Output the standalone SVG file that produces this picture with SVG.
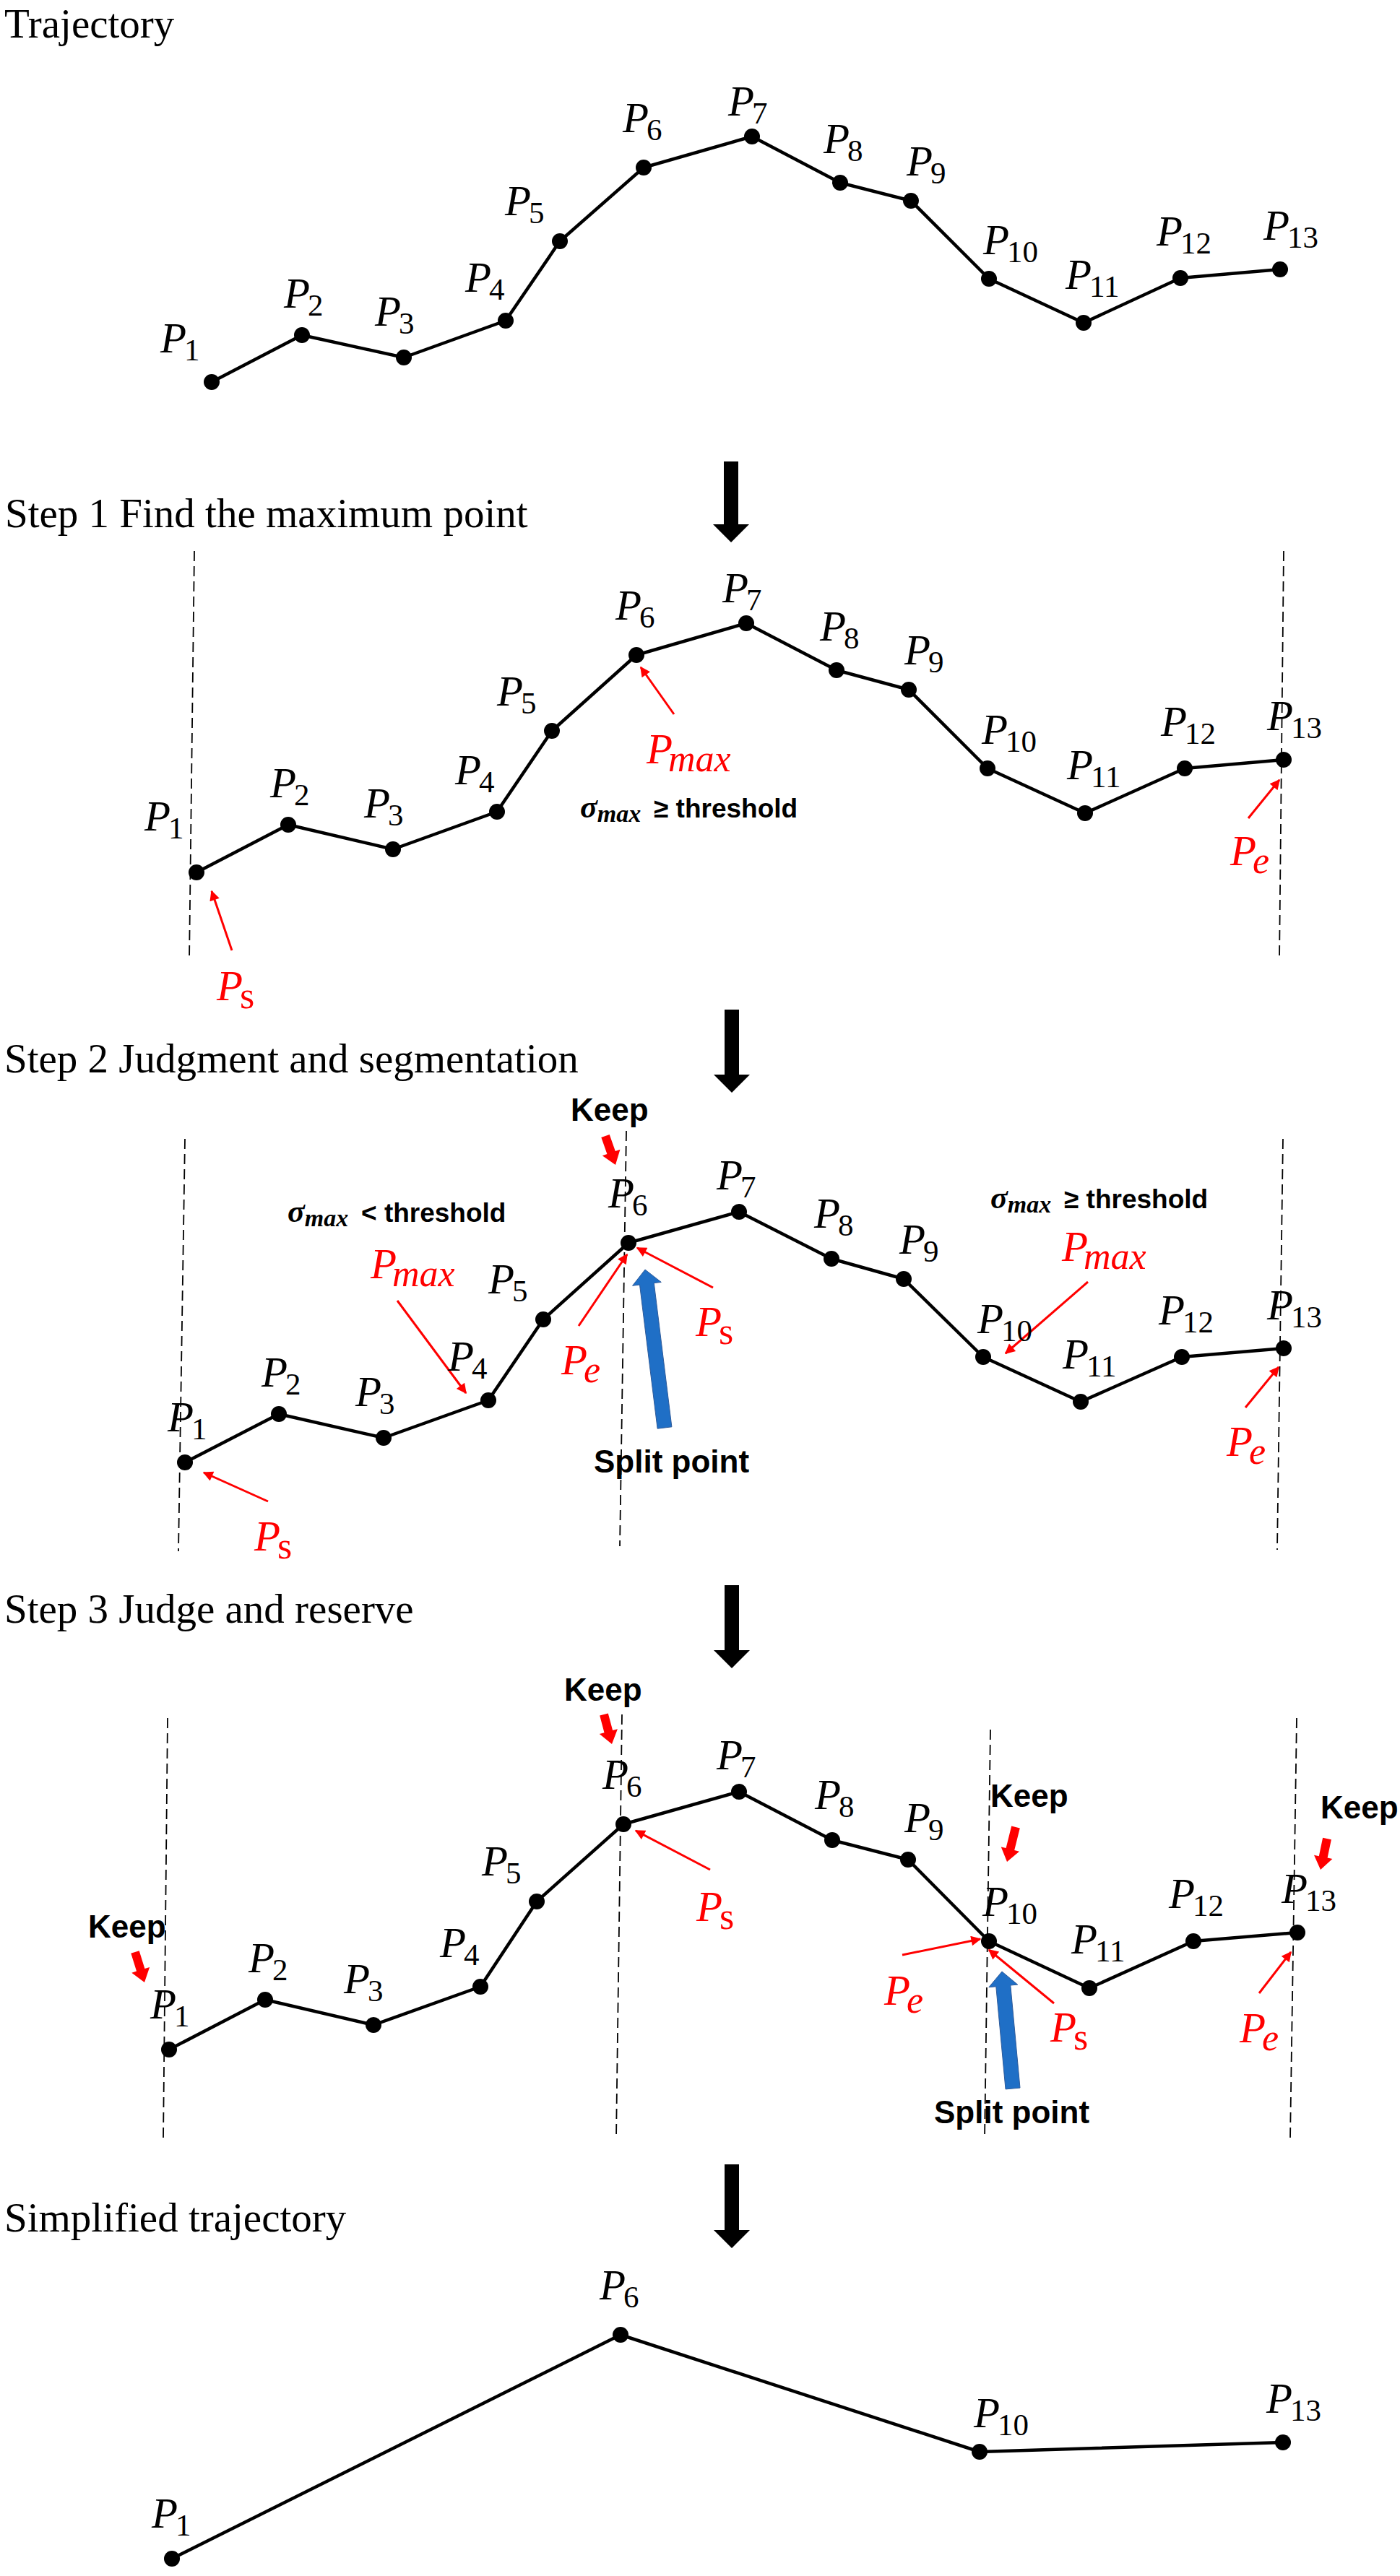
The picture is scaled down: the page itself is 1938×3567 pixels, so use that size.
<svg xmlns="http://www.w3.org/2000/svg" width="1938" height="3567" viewBox="0 0 1938 3567">
<defs>
<style>
.ttl{font-family:"Liberation Serif",serif;font-size:57px;fill:#000}
.p{font-family:"Liberation Serif",serif;font-style:italic;font-size:59px;fill:#000}
.p .n{font-style:normal;font-size:43px}
.r{fill:#f00}
.r .n{font-style:normal;font-size:52px}
.r .i{font-style:italic;font-size:52px}
.dot{fill:#000}
.traj{fill:none;stroke:#000;stroke-width:4.5;stroke-linejoin:round}
.dash{stroke:#000;stroke-width:1.8;stroke-dasharray:14 7;fill:none}
.ra{stroke:#f00;stroke-width:3;fill:none;marker-end:url(#mr)}
.blk{fill:#000}
.kp{fill:#f00}
.blue{fill:#1f6fc6;stroke:#2d5a9a;stroke-width:1}
.kw{font-family:"Liberation Sans",Arial,sans-serif;font-weight:bold;font-size:44px;fill:#000}
.sg{font-family:"Liberation Serif",serif;font-weight:bold;font-style:italic;font-size:44px;fill:#000}
.sg .m{font-size:34px}
.thr{font-family:"Liberation Sans",Arial,sans-serif;font-weight:bold;font-size:37px;font-style:normal}
</style>
<marker id="mr" viewBox="0 0 10 10" refX="9" refY="5" markerWidth="18" markerHeight="14" markerUnits="userSpaceOnUse" orient="auto"><path d="M0,0 L10,5 L0,10 z" fill="#f00"/></marker>
</defs>
<rect width="1938" height="3567" fill="#fff"/>

<g id="titles">
<text class="ttl" x="6" y="52">Trajectory</text>
<text class="ttl" x="7" y="730">Step 1 Find the maximum point</text>
<text class="ttl" x="6" y="1485">Step 2 Judgment and segmentation</text>
<text class="ttl" x="6" y="2247">Step 3 Judge and reserve</text>
<text class="ttl" x="6" y="3090">Simplified trajectory</text>
</g>

<g id="connectors">
<polyline class="traj" points="293,529 418,464 559,495 700,444 775,334 891,232 1041,189 1163,253 1261,278 1369,386 1500,447 1634,385 1772,373"/>
<polyline class="traj" points="272,1208 399,1142 544,1176 688,1124 764,1012 881,907 1033,863 1158,928 1258,955 1367,1064 1502,1126 1640,1064 1777,1052"/>
<polyline class="traj" points="256,2025 386,1958 531,1991 676,1939 752,1827 870,1721 1023,1678 1151,1743 1251,1771 1361,1879 1496,1941 1636,1879 1777,1867"/>
<polyline class="traj" points="234,2838 367,2769 517,2804 665,2751 743,2633 863,2526 1023,2481 1152,2548 1257,2575 1369,2688 1508,2753 1652,2688 1796,2676"/>
<polyline class="traj" points="238,3543 859,3233 1356,3395 1776,3382"/>

<line class="dash" x1="269" y1="763" x2="262" y2="1330"/>
<line class="dash" x1="1777" y1="763" x2="1771" y2="1330"/>
<line class="dash" x1="256" y1="1577" x2="247" y2="2148"/>
<line class="dash" x1="867" y1="1566" x2="858" y2="2141"/>
<line class="dash" x1="1776" y1="1577" x2="1768" y2="2146"/>
<line class="dash" x1="232" y1="2379" x2="226" y2="2962"/>
<line class="dash" x1="861" y1="2374" x2="853" y2="2962"/>
<line class="dash" x1="1371" y1="2395" x2="1363" y2="2962"/>
<line class="dash" x1="1795" y1="2379" x2="1786" y2="2962"/>

<polygon class="blk" points="1002,639 1022,639 1022,726 1037,726 1012,751 987,726 1002,726"/>
<polygon class="blk" points="1003,1398 1023,1398 1023,1488 1038,1488 1013,1513 988,1488 1003,1488"/>
<polygon class="blk" points="1003,2195 1023,2195 1023,2285 1038,2285 1013,2310 988,2285 1003,2285"/>
<polygon class="blk" points="1003,2997 1023,2997 1023,3088 1038,3088 1013,3113 988,3088 1003,3088"/>

<line class="ra" x1="933" y1="989" x2="887" y2="924"/>
<line class="ra" x1="321" y1="1316" x2="293" y2="1234"/>
<line class="ra" x1="1728" y1="1133" x2="1771" y2="1080"/>
<line class="ra" x1="550" y1="1801" x2="645" y2="1929"/>
<line class="ra" x1="1506" y1="1775" x2="1392" y2="1874"/>
<line class="ra" x1="801" y1="1836" x2="868" y2="1737"/>
<line class="ra" x1="987" y1="1783" x2="882" y2="1728"/>
<line class="ra" x1="371" y1="2079" x2="282" y2="2039"/>
<line class="ra" x1="1724" y1="1949" x2="1770" y2="1893"/>
<line class="ra" x1="983" y1="2589" x2="880" y2="2535"/>
<line class="ra" x1="1249" y1="2707" x2="1357" y2="2685"/>
<line class="ra" x1="1459" y1="2774" x2="1369" y2="2700"/>
<line class="ra" x1="1743" y1="2760" x2="1787" y2="2703"/>

<polygon class="kp" points="832.3,1575.0 840.4,1598.0 833.8,1600.3 852,1613 858.4,1591.7 851.8,1594.0 843.7,1571.0"/>
<polygon class="kp" points="830.2,2375.6 836.5,2399.2 829.8,2401.0 847,2415 854.9,2394.2 848.1,2396.1 841.8,2372.5"/>
<polygon class="kp" points="181.3,2704.8 189.0,2729.6 182.3,2731.7 200,2745 207.1,2724.0 200.4,2726.0 192.7,2701.2"/>
<polygon class="kp" points="1400.2,2528.5 1392.6,2559.1 1385.8,2557.4 1394,2578 1411.0,2563.7 1404.2,2562.0 1411.8,2531.5"/>
<polygon class="kp" points="1831.1,2544.8 1825.8,2570.2 1819.0,2568.7 1828,2589 1844.4,2574.1 1837.6,2572.6 1842.9,2547.2"/>

<polygon class="blue" points="929.9,1975.8 905.3,1776.6 915.3,1775.4 893,1758 875.6,1780.3 885.5,1779.0 910.1,1978.2"/>
<polygon class="blue" points="1412.0,2891.1 1398.8,2749.0 1408.7,2748.1 1387,2730 1368.9,2751.7 1378.8,2750.8 1392.0,2892.9"/>
</g>

<g id="s1-points">
<g id="s1-p1"><circle class="dot" cx="293" cy="529" r="11"/><text class="p" x="222" y="488">P<tspan class="n" dx="-3" dy="11">1</tspan></text></g>
<g id="s1-p2"><circle class="dot" cx="418" cy="464" r="11"/><text class="p" x="393" y="426">P<tspan class="n" dx="-3" dy="11">2</tspan></text></g>
<g id="s1-p3"><circle class="dot" cx="559" cy="495" r="11"/><text class="p" x="519" y="451">P<tspan class="n" dx="-3" dy="11">3</tspan></text></g>
<g id="s1-p4"><circle class="dot" cx="700" cy="444" r="11"/><text class="p" x="644" y="404">P<tspan class="n" dx="-3" dy="11">4</tspan></text></g>
<g id="s1-p5"><circle class="dot" cx="775" cy="334" r="11"/><text class="p" x="699" y="298">P<tspan class="n" dx="-3" dy="11">5</tspan></text></g>
<g id="s1-p6"><circle class="dot" cx="891" cy="232" r="11"/><text class="p" x="862" y="183">P<tspan class="n" dx="-3" dy="11">6</tspan></text></g>
<g id="s1-p7"><circle class="dot" cx="1041" cy="189" r="11"/><text class="p" x="1008" y="160">P<tspan class="n" dx="-3" dy="11">7</tspan></text></g>
<g id="s1-p8"><circle class="dot" cx="1163" cy="253" r="11"/><text class="p" x="1140" y="212">P<tspan class="n" dx="-3" dy="11">8</tspan></text></g>
<g id="s1-p9"><circle class="dot" cx="1261" cy="278" r="11"/><text class="p" x="1255" y="243">P<tspan class="n" dx="-3" dy="11">9</tspan></text></g>
<g id="s1-p10"><circle class="dot" cx="1369" cy="386" r="11"/><text class="p" x="1361" y="352">P<tspan class="n" dx="-3" dy="11">10</tspan></text></g>
<g id="s1-p11"><circle class="dot" cx="1500" cy="447" r="11"/><text class="p" x="1475" y="400">P<tspan class="n" dx="-3" dy="11">11</tspan></text></g>
<g id="s1-p12"><circle class="dot" cx="1634" cy="385" r="11"/><text class="p" x="1601" y="340">P<tspan class="n" dx="-3" dy="11">12</tspan></text></g>
<g id="s1-p13"><circle class="dot" cx="1772" cy="373" r="11"/><text class="p" x="1749" y="332">P<tspan class="n" dx="-3" dy="11">13</tspan></text></g>
</g>

<g id="s2-points">
<g id="s2-p1"><circle class="dot" cx="272" cy="1208" r="11"/><text class="p" x="200" y="1150">P<tspan class="n" dx="-3" dy="11">1</tspan></text></g>
<g id="s2-p2"><circle class="dot" cx="399" cy="1142" r="11"/><text class="p" x="374" y="1104">P<tspan class="n" dx="-3" dy="11">2</tspan></text></g>
<g id="s2-p3"><circle class="dot" cx="544" cy="1176" r="11"/><text class="p" x="504" y="1132">P<tspan class="n" dx="-3" dy="11">3</tspan></text></g>
<g id="s2-p4"><circle class="dot" cx="688" cy="1124" r="11"/><text class="p" x="630" y="1086">P<tspan class="n" dx="-3" dy="11">4</tspan></text></g>
<g id="s2-p5"><circle class="dot" cx="764" cy="1012" r="11"/><text class="p" x="688" y="977">P<tspan class="n" dx="-3" dy="11">5</tspan></text></g>
<g id="s2-p6"><circle class="dot" cx="881" cy="907" r="11"/><text class="p" x="852" y="858">P<tspan class="n" dx="-3" dy="11">6</tspan></text></g>
<g id="s2-p7"><circle class="dot" cx="1033" cy="863" r="11"/><text class="p" x="1000" y="834">P<tspan class="n" dx="-3" dy="11">7</tspan></text></g>
<g id="s2-p8"><circle class="dot" cx="1158" cy="928" r="11"/><text class="p" x="1135" y="887">P<tspan class="n" dx="-3" dy="11">8</tspan></text></g>
<g id="s2-p9"><circle class="dot" cx="1258" cy="955" r="11"/><text class="p" x="1252" y="920">P<tspan class="n" dx="-3" dy="11">9</tspan></text></g>
<g id="s2-p10"><circle class="dot" cx="1367" cy="1064" r="11"/><text class="p" x="1359" y="1030">P<tspan class="n" dx="-3" dy="11">10</tspan></text></g>
<g id="s2-p11"><circle class="dot" cx="1502" cy="1126" r="11"/><text class="p" x="1477" y="1079">P<tspan class="n" dx="-3" dy="11">11</tspan></text></g>
<g id="s2-p12"><circle class="dot" cx="1640" cy="1064" r="11"/><text class="p" x="1607" y="1019">P<tspan class="n" dx="-3" dy="11">12</tspan></text></g>
<g id="s2-p13"><circle class="dot" cx="1777" cy="1052" r="11"/><text class="p" x="1754" y="1011">P<tspan class="n" dx="-3" dy="11">13</tspan></text></g>
<g id="s2-notes">
<text class="p r" x="895" y="1057">P<tspan class="i" dx="-6" dy="11">max</tspan></text>
<text class="sg" x="803" y="1132">σ<tspan class="m" dy="6">max</tspan><tspan class="thr" x="905" y="1132">≥ threshold</tspan></text>
<text class="p r" x="300" y="1385">P<tspan class="n" dx="-4" dy="11">s</tspan></text>
<text class="p r" x="1703" y="1198">P<tspan class="i" dx="-5" dy="11">e</tspan></text>
</g>
</g>

<g id="s3-points">
<g id="s3-p1"><circle class="dot" cx="256" cy="2025" r="11"/><text class="p" x="232" y="1982">P<tspan class="n" dx="-3" dy="11">1</tspan></text></g>
<g id="s3-p2"><circle class="dot" cx="386" cy="1958" r="11"/><text class="p" x="362" y="1920">P<tspan class="n" dx="-3" dy="11">2</tspan></text></g>
<g id="s3-p3"><circle class="dot" cx="531" cy="1991" r="11"/><text class="p" x="492" y="1947">P<tspan class="n" dx="-3" dy="11">3</tspan></text></g>
<g id="s3-p4"><circle class="dot" cx="676" cy="1939" r="11"/><text class="p" x="620" y="1898">P<tspan class="n" dx="-3" dy="11">4</tspan></text></g>
<g id="s3-p5"><circle class="dot" cx="752" cy="1827" r="11"/><text class="p" x="676" y="1791">P<tspan class="n" dx="-3" dy="11">5</tspan></text></g>
<g id="s3-p6"><circle class="dot" cx="870" cy="1721" r="11"/><text class="p" x="842" y="1672">P<tspan class="n" dx="-3" dy="11">6</tspan></text></g>
<g id="s3-p7"><circle class="dot" cx="1023" cy="1678" r="11"/><text class="p" x="992" y="1647">P<tspan class="n" dx="-3" dy="11">7</tspan></text></g>
<g id="s3-p8"><circle class="dot" cx="1151" cy="1743" r="11"/><text class="p" x="1127" y="1700">P<tspan class="n" dx="-3" dy="11">8</tspan></text></g>
<g id="s3-p9"><circle class="dot" cx="1251" cy="1771" r="11"/><text class="p" x="1245" y="1736">P<tspan class="n" dx="-3" dy="11">9</tspan></text></g>
<g id="s3-p10"><circle class="dot" cx="1361" cy="1879" r="11"/><text class="p" x="1353" y="1846">P<tspan class="n" dx="-3" dy="11">10</tspan></text></g>
<g id="s3-p11"><circle class="dot" cx="1496" cy="1941" r="11"/><text class="p" x="1471" y="1895">P<tspan class="n" dx="-3" dy="11">11</tspan></text></g>
<g id="s3-p12"><circle class="dot" cx="1636" cy="1879" r="11"/><text class="p" x="1604" y="1834">P<tspan class="n" dx="-3" dy="11">12</tspan></text></g>
<g id="s3-p13"><circle class="dot" cx="1777" cy="1867" r="11"/><text class="p" x="1754" y="1827">P<tspan class="n" dx="-3" dy="11">13</tspan></text></g>
<g id="s3-notes">
<text class="kw" x="790" y="1552">Keep</text>
<text class="sg" x="398" y="1692">σ<tspan class="m" dy="6">max</tspan><tspan class="thr" x="500" y="1692">&lt; threshold</tspan></text>
<text class="sg" x="1371" y="1673">σ<tspan class="m" dy="6">max</tspan><tspan class="thr" x="1473" y="1673">≥ threshold</tspan></text>
<text class="p r" x="513" y="1770">P<tspan class="i" dx="-6" dy="11">max</tspan></text>
<text class="p r" x="1470" y="1746">P<tspan class="i" dx="-6" dy="11">max</tspan></text>
<text class="p r" x="777" y="1903">P<tspan class="i" dx="-5" dy="11">e</tspan></text>
<text class="p r" x="963" y="1850">P<tspan class="n" dx="-4" dy="11">s</tspan></text>
<text class="p r" x="352" y="2147">P<tspan class="n" dx="-4" dy="11">s</tspan></text>
<text class="p r" x="1698" y="2016">P<tspan class="i" dx="-5" dy="11">e</tspan></text>
<text class="kw" x="822" y="2039">Split point</text>
</g>
</g>

<g id="s4-points">
<g id="s4-p1"><circle class="dot" cx="234" cy="2838" r="11"/><text class="p" x="208" y="2795">P<tspan class="n" dx="-3" dy="11">1</tspan></text></g>
<g id="s4-p2"><circle class="dot" cx="367" cy="2769" r="11"/><text class="p" x="344" y="2731">P<tspan class="n" dx="-3" dy="11">2</tspan></text></g>
<g id="s4-p3"><circle class="dot" cx="517" cy="2804" r="11"/><text class="p" x="476" y="2760">P<tspan class="n" dx="-3" dy="11">3</tspan></text></g>
<g id="s4-p4"><circle class="dot" cx="665" cy="2751" r="11"/><text class="p" x="609" y="2710">P<tspan class="n" dx="-3" dy="11">4</tspan></text></g>
<g id="s4-p5"><circle class="dot" cx="743" cy="2633" r="11"/><text class="p" x="667" y="2597">P<tspan class="n" dx="-3" dy="11">5</tspan></text></g>
<g id="s4-p6"><circle class="dot" cx="863" cy="2526" r="11"/><text class="p" x="834" y="2477">P<tspan class="n" dx="-3" dy="11">6</tspan></text></g>
<g id="s4-p7"><circle class="dot" cx="1023" cy="2481" r="11"/><text class="p" x="992" y="2450">P<tspan class="n" dx="-3" dy="11">7</tspan></text></g>
<g id="s4-p8"><circle class="dot" cx="1152" cy="2548" r="11"/><text class="p" x="1128" y="2505">P<tspan class="n" dx="-3" dy="11">8</tspan></text></g>
<g id="s4-p9"><circle class="dot" cx="1257" cy="2575" r="11"/><text class="p" x="1252" y="2537">P<tspan class="n" dx="-3" dy="11">9</tspan></text></g>
<g id="s4-p10"><circle class="dot" cx="1369" cy="2688" r="11"/><text class="p" x="1360" y="2653">P<tspan class="n" dx="-3" dy="11">10</tspan></text></g>
<g id="s4-p11"><circle class="dot" cx="1508" cy="2753" r="11"/><text class="p" x="1483" y="2705">P<tspan class="n" dx="-3" dy="11">11</tspan></text></g>
<g id="s4-p12"><circle class="dot" cx="1652" cy="2688" r="11"/><text class="p" x="1618" y="2642">P<tspan class="n" dx="-3" dy="11">12</tspan></text></g>
<g id="s4-p13"><circle class="dot" cx="1796" cy="2676" r="11"/><text class="p" x="1774" y="2635">P<tspan class="n" dx="-3" dy="11">13</tspan></text></g>
<g id="s4-notes">
<text class="kw" x="781" y="2355">Keep</text>
<text class="kw" x="122" y="2683">Keep</text>
<text class="kw" x="1371" y="2502">Keep</text>
<text class="kw" x="1828" y="2518">Keep</text>
<text class="p r" x="964" y="2660">P<tspan class="n" dx="-4" dy="11">s</tspan></text>
<text class="p r" x="1224" y="2776">P<tspan class="i" dx="-5" dy="11">e</tspan></text>
<text class="p r" x="1454" y="2827">P<tspan class="n" dx="-4" dy="11">s</tspan></text>
<text class="p r" x="1716" y="2828">P<tspan class="i" dx="-5" dy="11">e</tspan></text>
<text class="kw" x="1293" y="2940">Split point</text>
</g>
</g>

<g id="s5-points">
<g id="s5-p1"><circle class="dot" cx="238" cy="3543" r="11"/><text class="p" x="210" y="3500">P<tspan class="n" dx="-3" dy="11">1</tspan></text></g>
<g id="s5-p6"><circle class="dot" cx="859" cy="3233" r="11"/><text class="p" x="830" y="3184">P<tspan class="n" dx="-3" dy="11">6</tspan></text></g>
<g id="s5-p10"><circle class="dot" cx="1356" cy="3395" r="11"/><text class="p" x="1348" y="3361">P<tspan class="n" dx="-3" dy="11">10</tspan></text></g>
<g id="s5-p13"><circle class="dot" cx="1776" cy="3382" r="11"/><text class="p" x="1753" y="3341">P<tspan class="n" dx="-3" dy="11">13</tspan></text></g>
</g>
</svg>
